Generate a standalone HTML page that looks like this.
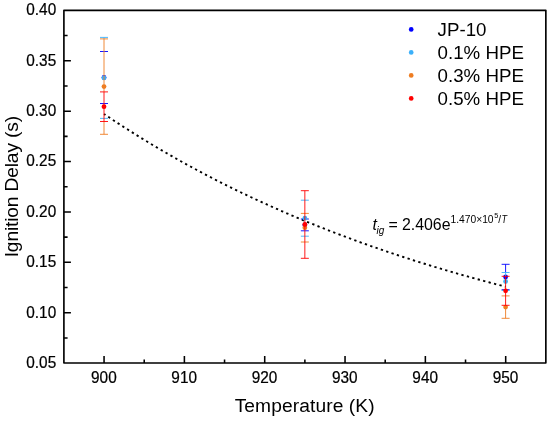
<!DOCTYPE html>
<html><head><meta charset="utf-8"><title>Ignition Delay</title>
<style>
html,body{margin:0;padding:0;background:#fff;}
body{width:550px;height:421px;overflow:hidden;}
svg{display:block;font-family:"Liberation Sans",Arial,sans-serif;fill:#000;}
.tk{font-size:16.1px;stroke:#000;stroke-width:0.22px;}
.ttl{font-size:19.2px;}
.lg{font-size:19.2px;}
.eq{font-size:15.9px;}
</style></head><body>
<svg width="550" height="421" viewBox="0 0 550 421">
<rect width="550" height="421" fill="#fff"/>
<g stroke="#000" fill="none" stroke-linecap="butt">
<rect x="63.9" y="10.3" width="481.95" height="352.70" stroke-width="1.65" stroke-linejoin="round"/>
<path d="M63.9 312.71 h7 M63.9 262.33 h7 M63.9 211.94 h7 M63.9 161.56 h7 M63.9 111.17 h7 M63.9 60.79 h7 M63.9 337.91 h3.7 M63.9 287.52 h3.7 M63.9 237.14 h3.7 M63.9 186.75 h3.7 M63.9 136.36 h3.7 M63.9 85.98 h3.7 M63.9 35.59 h3.7 M104.06 363.1 v-7.1 M184.39 363.1 v-7.1 M264.71 363.1 v-7.1 M345.04 363.1 v-7.1 M425.36 363.1 v-7.1 M505.69 363.1 v-7.1 M144.22 363.1 v-3.7 M224.55 363.1 v-3.7 M304.88 363.1 v-3.7 M385.20 363.1 v-3.7 M465.53 363.1 v-3.7 " stroke-width="1.55"/>
</g>
<g class="tk" text-anchor="end">
<text transform="translate(56.2 368.00) scale(0.955 1)">0.05</text>
<text transform="translate(56.2 317.61) scale(0.955 1)">0.10</text>
<text transform="translate(56.2 267.23) scale(0.955 1)">0.15</text>
<text transform="translate(56.2 216.84) scale(0.955 1)">0.20</text>
<text transform="translate(56.2 166.46) scale(0.955 1)">0.25</text>
<text transform="translate(56.2 116.07) scale(0.955 1)">0.30</text>
<text transform="translate(56.2 65.69) scale(0.955 1)">0.35</text>
<text transform="translate(56.2 15.30) scale(0.955 1)">0.40</text>
</g>
<g class="tk" text-anchor="middle">
<text transform="translate(103.86 383.2) scale(0.955 1)">900</text>
<text transform="translate(184.19 383.2) scale(0.955 1)">910</text>
<text transform="translate(264.51 383.2) scale(0.955 1)">920</text>
<text transform="translate(344.84 383.2) scale(0.955 1)">930</text>
<text transform="translate(425.16 383.2) scale(0.955 1)">940</text>
<text transform="translate(505.49 383.2) scale(0.955 1)">950</text>
</g>
<text class="ttl" x="304.7" y="411.7" text-anchor="middle" letter-spacing="0.1">Temperature (K)</text>
<text class="ttl" transform="translate(17.5 186.7) rotate(-90)" text-anchor="middle" letter-spacing="-0.15">Ignition Delay (s)</text>
<polyline points="104.06,114.00 106.07,115.36 108.08,116.70 110.09,118.04 112.09,119.38 114.10,120.71 116.11,122.03 118.12,123.34 120.13,124.65 122.14,125.95 124.14,127.25 126.15,128.54 128.16,129.82 130.17,131.09 132.18,132.36 134.18,133.62 136.19,134.88 138.20,136.13 140.21,137.37 142.22,138.61 144.22,139.84 146.23,141.06 148.24,142.28 150.25,143.50 152.26,144.70 154.27,145.90 156.27,147.10 158.28,148.28 160.29,149.47 162.30,150.64 164.31,151.81 166.31,152.98 168.32,154.14 170.33,155.29 172.34,156.44 174.35,157.58 176.36,158.71 178.36,159.84 180.37,160.97 182.38,162.09 184.39,163.20 186.40,164.31 188.40,165.41 190.41,166.51 192.42,167.60 194.43,168.69 196.44,169.77 198.44,170.84 200.45,171.91 202.46,172.98 204.47,174.04 206.48,175.09 208.49,176.14 210.49,177.18 212.50,178.22 214.51,179.25 216.52,180.28 218.53,181.31 220.53,182.32 222.54,183.34 224.55,184.35 226.56,185.35 228.57,186.35 230.57,187.34 232.58,188.33 234.59,189.31 236.60,190.29 238.61,191.27 240.62,192.24 242.62,193.20 244.63,194.16 246.64,195.11 248.65,196.06 250.66,197.01 252.66,197.95 254.67,198.89 256.68,199.82 258.69,200.75 260.70,201.67 262.70,202.59 264.71,203.50 266.72,204.41 268.73,205.32 270.74,206.22 272.75,207.11 274.75,208.01 276.76,208.89 278.77,209.78 280.78,210.66 282.79,211.53 284.79,212.40 286.80,213.27 288.81,214.13 290.82,214.99 292.83,215.84 294.83,216.69 296.84,217.53 298.85,218.38 300.86,219.21 302.87,220.05 304.88,220.88 306.88,221.70 308.89,222.52 310.90,223.34 312.91,224.15 314.92,224.96 316.92,225.77 318.93,226.57 320.94,227.37 322.95,228.16 324.96,228.95 326.96,229.74 328.97,230.52 330.98,231.30 332.99,232.07 335.00,232.85 337.01,233.61 339.01,234.38 341.02,235.14 343.03,235.89 345.04,236.65 347.05,237.40 349.05,238.14 351.06,238.89 353.07,239.62 355.08,240.36 357.09,241.09 359.09,241.82 361.10,242.54 363.11,243.27 365.12,243.98 367.13,244.70 369.13,245.41 371.14,246.12 373.15,246.82 375.16,247.52 377.17,248.22 379.18,248.92 381.18,249.61 383.19,250.29 385.20,250.98 387.21,251.66 389.22,252.34 391.22,253.01 393.23,253.69 395.24,254.35 397.25,255.02 399.26,255.68 401.26,256.34 403.27,257.00 405.28,257.65 407.29,258.30 409.30,258.95 411.31,259.59 413.31,260.23 415.32,260.87 417.33,261.51 419.34,262.14 421.35,262.77 423.35,263.39 425.36,264.02 427.37,264.64 429.38,265.25 431.39,265.87 433.39,266.48 435.40,267.09 437.41,267.69 439.42,268.30 441.43,268.90 443.44,269.49 445.44,270.09 447.45,270.68 449.46,271.27 451.47,271.86 453.48,272.44 455.48,273.02 457.49,273.60 459.50,274.17 461.51,274.75 463.52,275.32 465.53,275.88 467.53,276.45 469.54,277.01 471.55,277.57 473.56,278.13 475.57,278.68 477.57,279.23 479.58,279.78 481.59,280.33 483.60,280.88 485.61,281.42 487.61,281.96 489.62,282.49 491.63,283.03 493.64,283.56 495.65,284.09 497.66,284.62 499.66,285.14 501.67,285.66 503.68,286.18 505.69,286.70" fill="none" stroke="#000" stroke-width="1.9" stroke-dasharray="2.3 3.33" stroke-dashoffset="0.6" stroke-linecap="butt"/>
<g stroke="#0000ff" fill="#0000ff">
<path d="M100.00 51.50 h8 M100.00 103.50 h8 M300.85 219.00 h8 M300.85 230.80 h8 M505.60 264.30 V272.50 M501.60 264.30 h8 M501.60 289.70 h8 " fill="none" stroke-width="0.9"/>
<circle cx="104.00" cy="77.50" r="2.4" stroke="none"/>
<circle cx="304.85" cy="224.90" r="2.4" stroke="none"/>
<circle cx="505.60" cy="277.00" r="2.4" stroke="none"/>
</g>
<g stroke="#3bb0fa" fill="#3bb0fa">
<path d="M104.00 37.40 V38.90 M100.00 37.40 h8 M100.00 118.40 h8 M300.85 200.20 h8 M300.85 236.20 h8 M505.60 272.50 V276.30 M501.60 272.50 h8 M501.60 290.50 h8 " fill="none" stroke-width="0.9"/>
<circle cx="104.00" cy="77.90" r="2.4" stroke="none"/>
<circle cx="304.85" cy="218.20" r="2.4" stroke="none"/>
<circle cx="505.60" cy="281.50" r="2.4" stroke="none"/>
</g>
<g stroke="#ee7d22" fill="#ee7d22">
<path d="M104.00 38.90 V91.90 M104.00 121.50 V134.30 M100.00 38.90 h8 M100.00 134.30 h8 M300.85 213.40 h8 M300.85 242.00 h8 M505.60 305.30 V318.30 M501.60 295.90 h8 M501.60 318.30 h8 " fill="none" stroke-width="0.9"/>
<circle cx="104.00" cy="86.60" r="2.4" stroke="none"/>
<circle cx="304.85" cy="227.70" r="2.4" stroke="none"/>
<circle cx="505.60" cy="307.10" r="2.4" stroke="none"/>
</g>
<g stroke="#ff0000" fill="#ff0000">
<path d="M104.00 91.90 V121.50 M100.00 91.90 h8 M100.00 121.50 h8 M304.85 190.70 V258.30 M300.85 190.70 h8 M300.85 258.30 h8 M505.60 276.30 V305.30 M501.60 276.30 h8 M501.60 305.30 h8 " fill="none" stroke-width="0.9"/>
<circle cx="104.00" cy="106.70" r="2.4" stroke="none"/>
<circle cx="304.85" cy="224.50" r="2.4" stroke="none"/>
<circle cx="505.60" cy="290.80" r="2.4" stroke="none"/>
</g>
<circle cx="411.2" cy="29.4" r="2.35" fill="#0000ff"/>
<text class="lg" transform="translate(437.6 35.6) scale(0.975 1)">JP-10</text>
<circle cx="411.2" cy="52.4" r="2.35" fill="#3bb0fa"/>
<text class="lg" transform="translate(437.6 58.6) scale(0.975 1)">0.1% HPE</text>
<circle cx="411.2" cy="75.4" r="2.35" fill="#ee7d22"/>
<text class="lg" transform="translate(437.6 81.6) scale(0.975 1)">0.3% HPE</text>
<circle cx="411.2" cy="98.4" r="2.35" fill="#ff0000"/>
<text class="lg" transform="translate(437.6 104.6) scale(0.975 1)">0.5% HPE</text>
<text transform="translate(372.4 229.8) scale(1 1)" font-size="15.9" font-style="italic">t</text>
<text transform="translate(376.6 233.5) scale(0.86 1)" font-size="11.6" font-style="italic">ig</text>
<text transform="translate(388.6 229.8) scale(1 1)" font-size="15.9">=</text>
<text transform="translate(401.9 229.8) scale(1 1)" font-size="15.9">2.406e</text>
<text transform="translate(450.5 223.0) scale(1 1)" font-size="10.25">1.470×10</text>
<text transform="translate(494.3 218.3) scale(0.9 1)" font-size="8.1">5</text>
<text transform="translate(498.2 223.0) scale(1 1)" font-size="10.1">/</text>
<text transform="translate(501.5 223.0) scale(0.9 1)" font-size="10.1" font-style="italic">T</text>
</svg></body></html>
